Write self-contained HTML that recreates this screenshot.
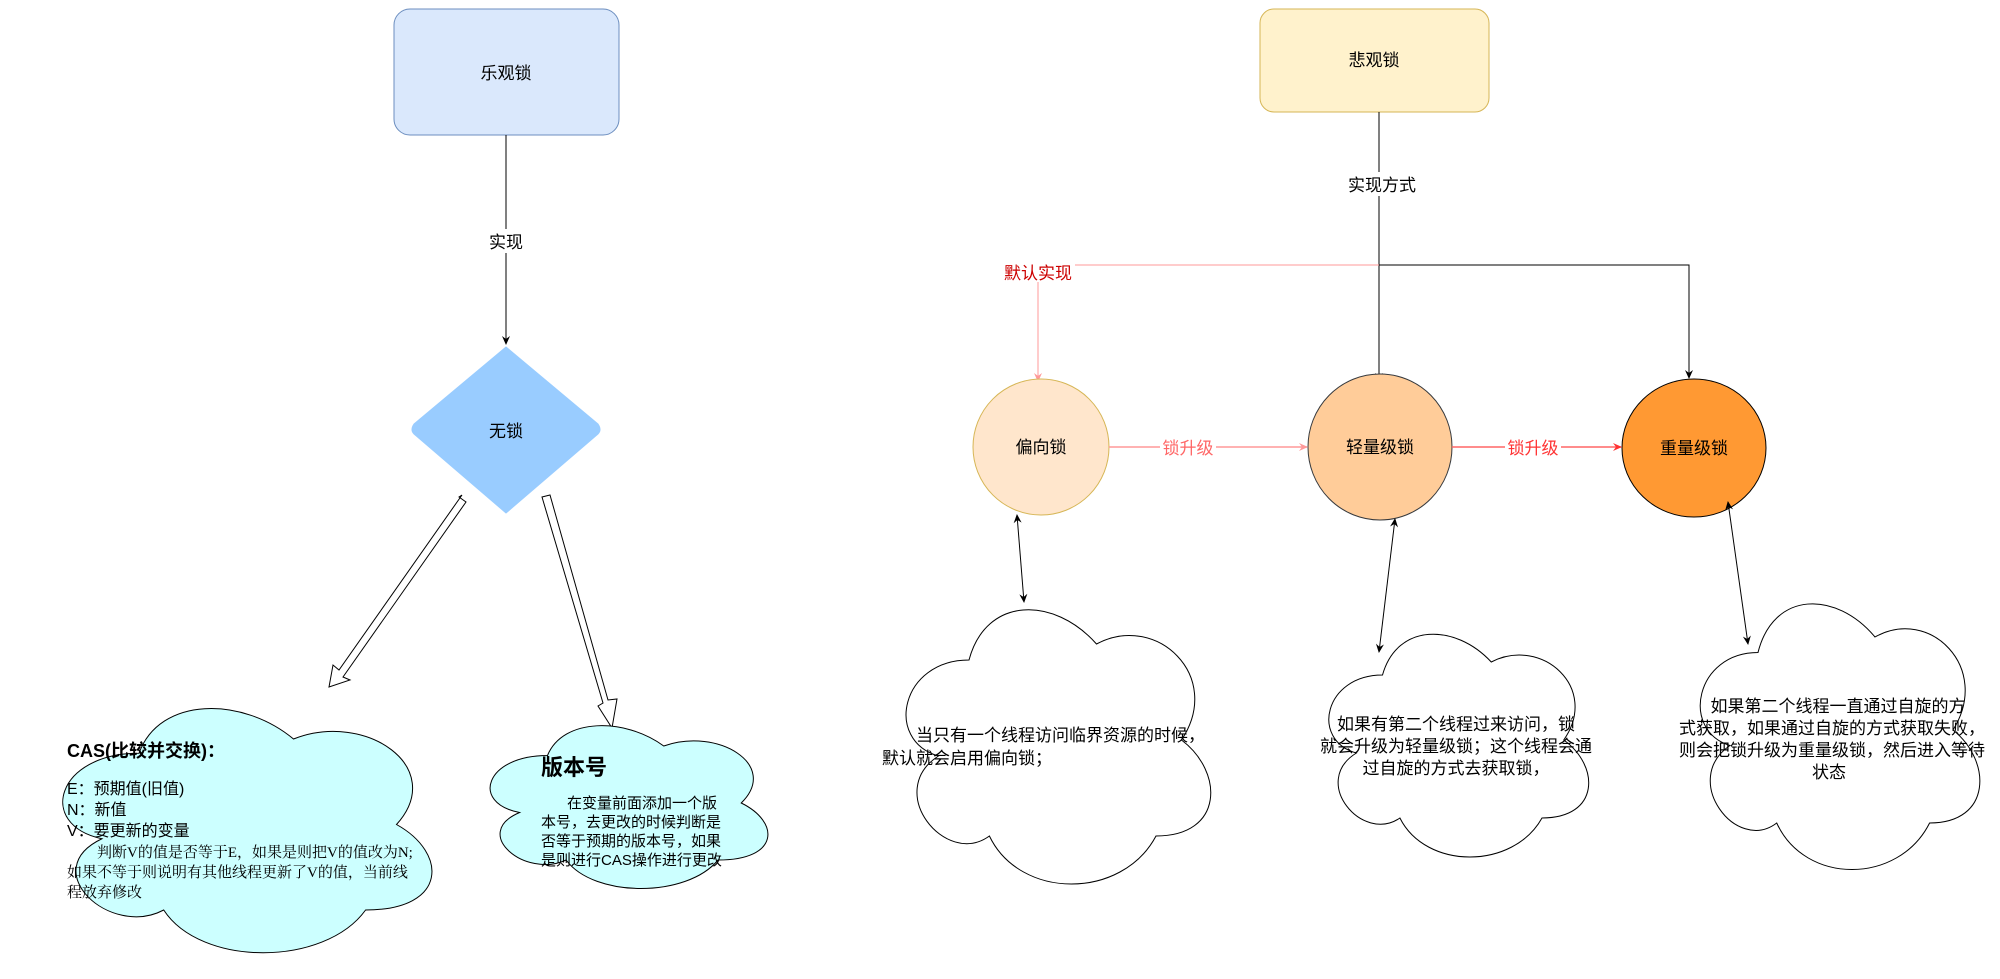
<!DOCTYPE html>
<html><head><meta charset="utf-8"><style>
html,body{margin:0;padding:0;background:#fff;}
svg{display:block;}
text{font-family:"Liberation Sans","Noto Sans CJK SC",sans-serif;}
.s{font-family:"Liberation Serif","Noto Serif CJK SC",serif;}
</style></head><body>
<svg width="2000" height="979" viewBox="0 0 2000 979" xmlns="http://www.w3.org/2000/svg">
<defs>
<marker id="ab" markerWidth="10" markerHeight="10" refX="8" refY="5" orient="auto" markerUnits="userSpaceOnUse"><path d="M0,1 L9,5 L0,9 L3,5 Z" fill="#000"/></marker>
<marker id="abs" markerWidth="10" markerHeight="10" refX="2" refY="5" orient="auto" markerUnits="userSpaceOnUse"><path d="M10,1 L1,5 L10,9 L7,5 Z" fill="#000"/></marker>
<marker id="ap" markerWidth="10" markerHeight="10" refX="8" refY="5" orient="auto" markerUnits="userSpaceOnUse"><path d="M0,1 L9,5 L0,9 L3,5 Z" fill="#ff9999"/></marker>
<marker id="ar" markerWidth="10" markerHeight="10" refX="8" refY="5" orient="auto" markerUnits="userSpaceOnUse"><path d="M0,1 L9,5 L0,9 L3,5 Z" fill="#ff3333"/></marker>
<symbol id="cloud" viewBox="0 0 1 1" preserveAspectRatio="none">
<path vector-effect="non-scaling-stroke" d="M0.25,0.25 C0.05,0.25 0,0.5 0.16,0.55 C0,0.66 0.18,0.9 0.31,0.8 C0.4,1 0.7,1 0.8,0.8 C1,0.8 1,0.6 0.875,0.5 C1,0.3 0.8,0.1 0.625,0.2 C0.5,0.05 0.3,0.05 0.25,0.25 Z"/>
</symbol>
</defs>

<!-- left part -->
<rect x="394" y="9" width="225" height="126" rx="16" fill="#dae8fc" stroke="#6c8ebf"/>
<text x="506" y="79" font-size="17" text-anchor="middle">乐观锁</text>
<line x1="506" y1="135" x2="506" y2="344" stroke="#000" marker-end="url(#ab)"/>
<rect x="486" y="229" width="40" height="24" fill="#fff"/>
<text x="506" y="248" font-size="17" text-anchor="middle">实现</text>
<path d="M506,355 L598,432 Q602,438 598,442 L506,521 L414,442 Q410,438 414,432 Z" fill="#99ccff" stroke="#99ccff" stroke-linejoin="round" transform="translate(0,-8)"/>
<text x="506" y="437" font-size="17" text-anchor="middle">无锁</text>

<!-- hollow arrows -->
<path d="M459,497 L466,502 L343,677 L350,680 L329,687 L333,665 L339,670 L462,495 Z" fill="#fff" stroke="#000" stroke-width="1"/>
<path d="M542,497 L550,495 L608,700 L617,699 L612,728 L598,706 L603,703 Z" fill="#fff" stroke="#000" stroke-width="1"/>

<!-- clouds left -->
<use href="#cloud" x="36" y="682" width="412" height="285" fill="#ccffff" stroke="#000" stroke-width="1"/>
<use href="#cloud" x="470" y="708" width="310" height="190" fill="#ccffff" stroke="#000" stroke-width="1"/>

<text x="67" y="757" font-size="18" font-weight="bold">CAS(比较并交换)：</text>
<text x="67" y="794" font-size="16">E：预期值(旧值)</text>
<text x="67" y="815" font-size="16">N：新值</text>
<text x="67" y="836" font-size="16">V：要更新的变量</text>
<text class="s" x="97" y="857" font-size="15">判断V的值是否等于E，如果是则把V的值改为N;</text>
<text class="s" x="67" y="877" font-size="15">如果不等于则说明有其他线程更新了V的值，当前线</text>
<text class="s" x="67" y="897" font-size="15">程放弃修改</text>

<text x="541" y="775" font-size="22" font-weight="bold">版本号</text>
<text x="567" y="808" font-size="15">在变量前面添加一个版</text>
<text x="541" y="827" font-size="15">本号，去更改的时候判断是</text>
<text x="541" y="846" font-size="15">否等于预期的版本号，如果</text>
<text x="541" y="865" font-size="15">是则进行CAS操作进行更改</text>

<!-- right part -->
<rect x="1260" y="9" width="229" height="103" rx="14" fill="#fff2cc" stroke="#d6b656"/>
<text x="1374" y="66" font-size="17" text-anchor="middle">悲观锁</text>
<line x1="1379" y1="112" x2="1379" y2="381" stroke="#000" marker-end="url(#ab)"/>
<rect x="1342" y="172" width="74" height="24" fill="#fff"/>
<text x="1382" y="191" font-size="17" text-anchor="middle">实现方式</text>
<polyline points="1379,265 1689,265 1689,378" fill="none" stroke="#000" marker-end="url(#ab)"/>
<polyline points="1379,265 1038,265 1038,381" fill="none" stroke="#ff9999" marker-end="url(#ap)"/>
<rect x="1003" y="262" width="72" height="20" fill="#fff"/>
<text x="1038" y="279" font-size="17" text-anchor="middle" fill="#cc0000">默认实现</text>

<ellipse cx="1041" cy="447" rx="68" ry="68" fill="#ffe6cc" stroke="#d6b656"/>
<text x="1041" y="453" font-size="17" text-anchor="middle">偏向锁</text>
<ellipse cx="1380" cy="447" rx="72" ry="73" fill="#ffcc99" stroke="#36393d"/>
<text x="1380" y="453" font-size="17" text-anchor="middle">轻量级锁</text>
<ellipse cx="1694" cy="448" rx="72" ry="69" fill="#ff9933" stroke="#000"/>
<text x="1694" y="454" font-size="17" text-anchor="middle">重量级锁</text>

<line x1="1109" y1="447" x2="1307" y2="447" stroke="#ff9999" stroke-width="1.5" marker-end="url(#ap)"/>
<rect x="1160" y="437" width="56" height="20" fill="#fff"/>
<text x="1188" y="454" font-size="17" text-anchor="middle" fill="#ff6666">锁升级</text>
<line x1="1452" y1="447" x2="1621" y2="447" stroke="#ff6666" stroke-width="1.5" marker-end="url(#ar)"/>
<rect x="1505" y="437" width="56" height="20" fill="#fff"/>
<text x="1533" y="454" font-size="17" text-anchor="middle" fill="#ff3333">锁升级</text>

<line x1="1017" y1="515" x2="1024" y2="602" stroke="#000" marker-start="url(#abs)" marker-end="url(#ab)"/>
<line x1="1395" y1="519" x2="1379" y2="652" stroke="#000" marker-start="url(#abs)" marker-end="url(#ab)"/>
<line x1="1728" y1="502" x2="1748" y2="644" stroke="#000" marker-start="url(#abs)" marker-end="url(#ab)"/>

<use href="#cloud" x="884" y="580" width="340" height="320" fill="none" stroke="#000" stroke-width="1"/>
<use href="#cloud" x="1310" y="610" width="290" height="260" fill="none" stroke="#000" stroke-width="1"/>
<use href="#cloud" x="1680" y="575" width="312" height="310" fill="none" stroke="#000" stroke-width="1"/>

<text x="916" y="741" font-size="17">当只有一个线程访问临界资源的时候，</text>
<text x="882" y="764" font-size="17">默认就会启用偏向锁；</text>

<text x="1456" y="730" font-size="17" text-anchor="middle">如果有第二个线程过来访问，锁</text>
<text x="1456" y="752" font-size="17" text-anchor="middle">就会升级为轻量级锁；这个线程会通</text>
<text x="1456" y="774" font-size="17" text-anchor="middle">过自旋的方式去获取锁，</text>

<text x="1838" y="712" font-size="17" text-anchor="middle">如果第二个线程一直通过自旋的方</text>
<text x="1832" y="734" font-size="17" text-anchor="middle">式获取，如果通过自旋的方式获取失败，</text>
<text x="1832" y="756" font-size="17" text-anchor="middle">则会把锁升级为重量级锁，然后进入等待</text>
<text x="1829" y="778" font-size="17" text-anchor="middle">状态</text>
</svg>
</body></html>
